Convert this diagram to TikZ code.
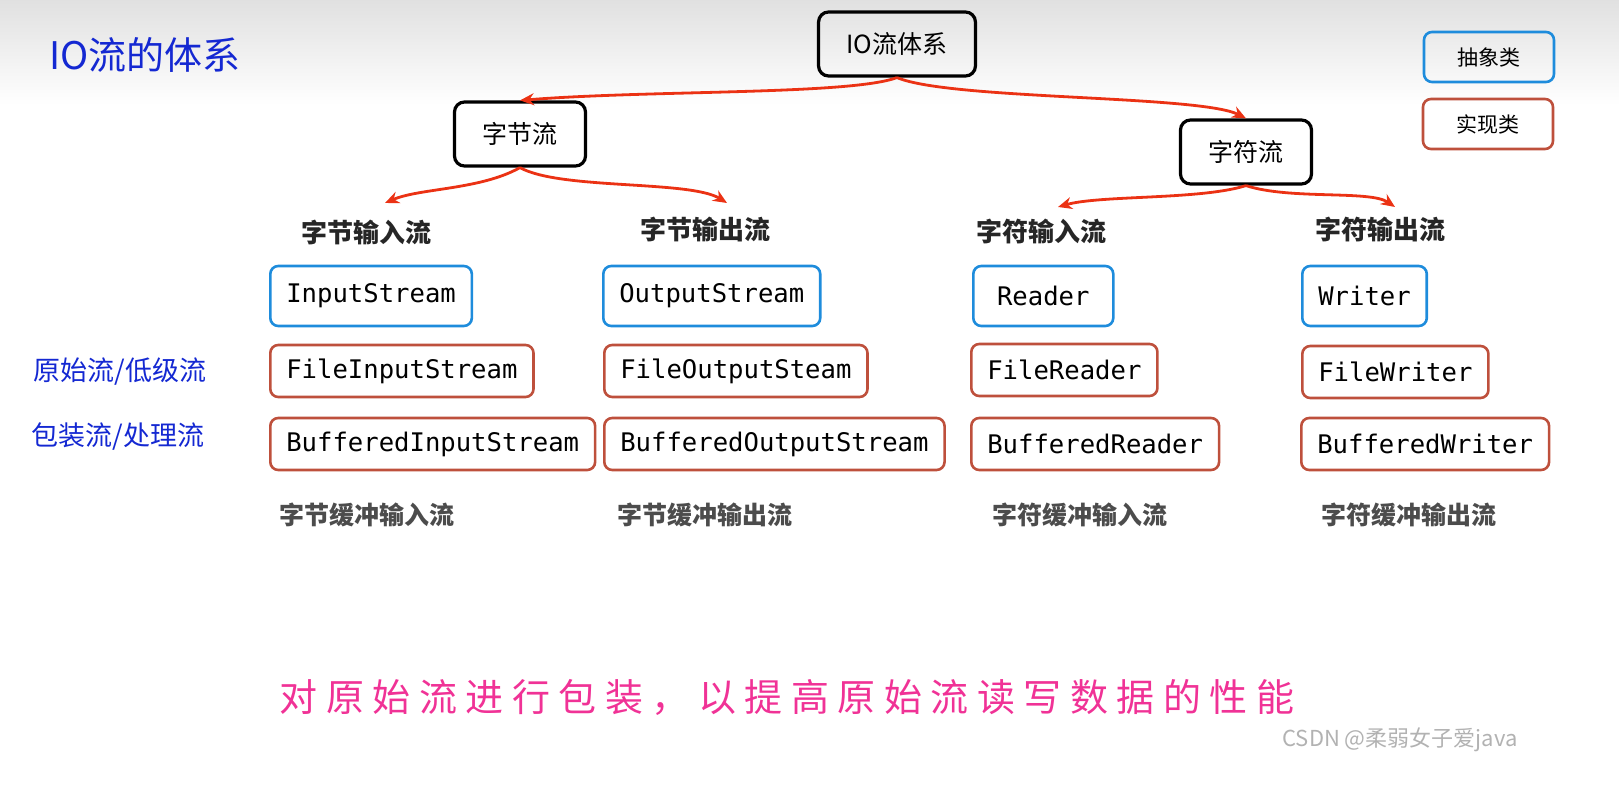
\documentclass[tikz,border=0pt]{standalone}
\usepackage{fontspec}
\setmainfont{Noto Sans CJK SC}
\newfontfamily\cjk{Noto Sans CJK SC}
\newfontfamily\monof{DejaVu Sans Mono}
\usetikzlibrary{arrows.meta}
\definecolor{absb}{RGB}{30,140,220}
\definecolor{impr}{RGB}{190,80,60}
\definecolor{arr}{RGB}{235,50,20}
\definecolor{hand}{RGB}{20,40,210}
\definecolor{pinkc}{RGB}{240,50,150}
\tikzset{
 top/.style={draw=black,line width=1.6pt,rounded corners=5pt,minimum height=32pt,font=\cjk\fontsize{12.5}{14}\selectfont,inner xsep=14pt},
 abs/.style={draw=absb,line width=1.3pt,rounded corners=4pt,minimum height=30pt,font=\monof\fontsize{12.8}{14}\selectfont,anchor=west,inner xsep=8pt},
 imp/.style={draw=impr,line width=1.3pt,rounded corners=4pt,minimum height=26pt,font=\monof\fontsize{12.8}{14}\selectfont,anchor=west,inner xsep=8pt},
 hdr/.style={font=\cjk\bfseries\fontsize{13}{15}\selectfont,text=black!85},
 sub/.style={font=\cjk\bfseries\fontsize{12.5}{14}\selectfont,text=black!70},
 lg/.style={rounded corners=4pt,line width=1.3pt,minimum width=65pt,minimum height=25pt,font=\cjk\fontsize{10.5}{12}\selectfont},
 ar/.style={arr,line width=1.4pt,-{Stealth[length=7pt,width=6pt]}},
 handt/.style={text=hand,font=\cjk\fontsize{13.5}{15}\selectfont}
}
\begin{document}
\begin{tikzpicture}[x=0.5pt,y=-0.5pt]
\useasboundingbox (0,0) rectangle (1619,791);
\shade[top color=black!12,bottom color=white] (0,0) rectangle (1619,105);
\node[top] (io) at (897,44) {IO流体系};
\node[top] (zj) at (520,134) {字节流};
\node[top] (zf) at (1246,152) {字符流};
\node[lg,draw=absb] (la) at (1489,57) {抽象类};
\node[lg,draw=impr] (li) at (1488,124) {实现类};
\node[hdr] (h1) at (366,232) {字节输入流};
\node[hdr] (h2) at (705,230) {字节输出流};
\node[hdr] (h3) at (1041,232) {字符输入流};
\node[hdr] (h4) at (1380,230) {字符输出流};
\node[abs] (a1) at (269,296) {InputStream};
\node[abs] (a2) at (602,296) {OutputStream};
\node[abs,minimum width=70pt] (a3) at (972,296) {Reader};
\node[abs] (a4) at (1301,296) {Writer};
\node[imp] (f1) at (269,371) {FileInputStream};
\node[imp] (f2) at (603,371) {FileOutputSteam};
\node[imp] (f3) at (970,370) {FileReader};
\node[imp] (f4) at (1301,372) {FileWriter};
\node[imp] (b1) at (269,444) {BufferedInputStream};
\node[imp] (b2) at (603,444) {BufferedOutputStream};
\node[imp] (b3) at (970,444) {BufferedReader};
\node[imp] (b4) at (1300,444) {BufferedWriter};
\node[sub] (s1) at (367,515) {字节缓冲输入流};
\node[sub] (s2) at (705,515) {字节缓冲输出流};
\node[sub] (s3) at (1080,515) {字符缓冲输入流};
\node[sub] (s4) at (1409,515) {字符缓冲输出流};
\node[handt,font=\cjk\fontsize{19}{22}\selectfont] (t) at (145,55) {IO流的体系};
\node[handt] (l1) at (120,372) {原始流/低级流};
\node[handt] (l2) at (118,437) {包装流/处理流};
\node[text=pinkc,font=\cjk\fontsize{19}{22}\selectfont] (p) at (787,697) {对\ 原\ 始\ 流\ 进\ 行\ 包\ 装\ ，\ 以\ 提\ 高\ 原\ 始\ 流\ 读\ 写\ 数\ 据\ 的\ 性\ 能};
\node[text=black!30,font=\cjk\fontsize{11}{13}\selectfont] (w) at (1400,740) {CSDN @柔弱女子爱java};
\draw[ar] (io.south) .. controls (850,95) and (650,90) .. (zj.north);
\draw[ar] (io.south) .. controls (950,100) and (1200,95) .. (zf.north);
\draw[ar] (zj.south) .. controls (480,190) and (420,188) .. (385,203);
\draw[ar] (zj.south) .. controls (560,190) and (690,180) .. (727,203);
\draw[ar] (zf.south) .. controls (1200,200) and (1100,195) .. (1058,207);
\draw[ar] (zf.south) .. controls (1290,200) and (1370,190) .. (1395,207);
\end{tikzpicture}
\end{document}
